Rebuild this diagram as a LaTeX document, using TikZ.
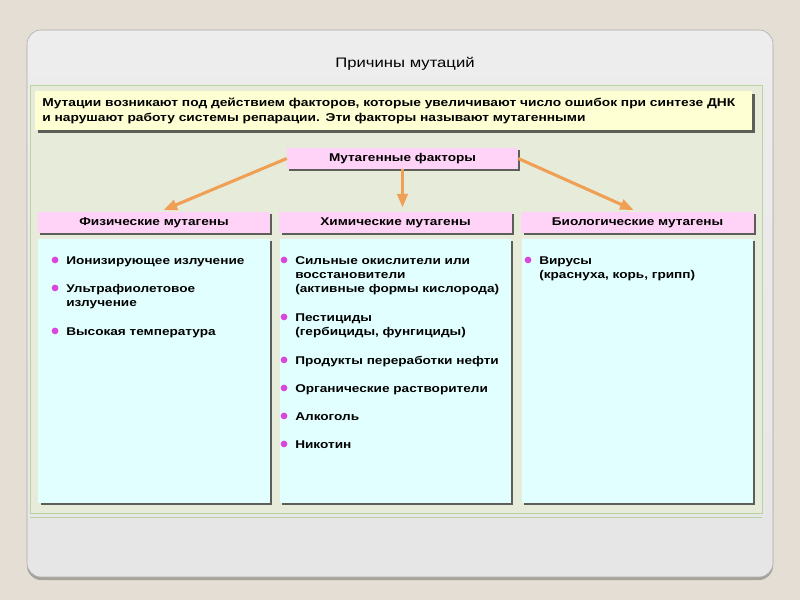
\documentclass[tikz,border=0pt]{standalone}
\usepackage{fontspec}
\setmainfont{Liberation Sans}[FakeStretch=1.21]
\usepackage{xcolor}
\usetikzlibrary{arrows.meta,positioning,shadows}

\definecolor{pagebg}{HTML}{E4DED4}
\definecolor{panelgray}{HTML}{DCDCDC}
\definecolor{panelline}{HTML}{ABABAB}
\definecolor{panelshade}{HTML}{A7A39B}
\definecolor{greenfill}{HTML}{E7ECDA}
\definecolor{greenline}{HTML}{B9D3A0}
\definecolor{notefill}{HTML}{FFFFD4}
\definecolor{headpink}{HTML}{FFD2F8}
\definecolor{listcyan}{HTML}{E2FFFF}
\definecolor{arroworange}{HTML}{EFA055}
\definecolor{dotpink}{HTML}{D846DC}

\begin{document}
\begin{tikzpicture}[x=0.025cm,y=-0.025cm,
    >={Triangle[length=3.4mm,width=2.6mm]},
    flow/.style={->,line width=2.2pt,draw=arroworange,shorten >=3pt},
    boxshadow/.style={drop shadow={shadow xshift=1.6pt,shadow yshift=-1.6pt,fill=black,opacity=0.6}},
    note/.style={fill=notefill,boxshadow,minimum width=17.925cm,minimum height=0.975cm,
      text width=17.575cm,inner xsep=0.175cm,align=left,font=\bfseries\fontsize{8.1}{10.6}\selectfont},
    head/.style={fill=headpink,boxshadow,minimum width=5.8cm,minimum height=0.525cm,
      inner sep=0pt,align=center,font=\bfseries\fontsize{8}{10}\selectfont},
    listbox/.style={fill=listcyan,boxshadow,minimum width=5.775cm,minimum height=6.6cm,inner sep=0pt},
    entry/.style={anchor=base west,inner sep=0pt,text width=5.3cm,align=left,
      font=\bfseries\fontsize{8}{10}\selectfont}
  ]
    \useasboundingbox[fill=pagebg] (0,0) rectangle (800,600);
    % panel
    \fill[panelshade,rounded corners=10pt] (27,34) rectangle (773,580);
    \shade[top color=gray!14,bottom color=gray!20,draw=panelline,rounded corners=10pt]
      (27,30) rectangle (773,577);
    \fill[greenfill] (30,85) rectangle (762,513);
    \draw[greenline] (30,85) rectangle (762,513);
    \draw[greenline] (30,517) -- (762,517);
    \node[font=\fontsize{9.8}{11}\selectfont] (title) at (405,64) {Причины мутаций};

    \node[note,anchor=north west] (note) at (35,91)
      {Мутации возникают под действием факторов, которые увеличивают число ошибок при синтезе ДНК\\
       и нарушают работу системы репарации. Эти факторы называют мутагенными};
    \node[head,minimum width=5.775cm] (factors) at (402.5,158.5) {Мутагенные факторы};

    \node[head] (physhead) at (154,222.5) {Физические мутагены};
    \node[head] (chemhead) at (395.5,222.5) {Химические мутагены};
    \node[head] (biohead) at (637.5,222.5) {Биологические мутагены};

    \node[listbox,below=0.125cm of physhead] (physbox) {};
    \node[listbox,below=0.125cm of chemhead] (chembox) {};
    \node[listbox,below=0.125cm of biohead] (biobox) {};

    \draw[flow] (factors.west) -- ([xshift=4pt]physhead.north);
    \draw[flow] (factors.south) -- (factors.south |- chemhead.north);
    \draw[flow] (factors.east) -- (biohead.north);

    % physical
    \node[entry] (ion) at (66,264) {Ионизирующее излучение};
    \node[entry] (uv) at (66,292) {Ультрафиолетовое\\излучение};
    \node[entry] (heat) at (66,335) {Высокая температура};
    % chemical
    \node[entry] (oxid) at (295,264) {Сильные окислители или\\восстановители\\(активные формы кислорода)};
    \node[entry] (pest) at (295,321) {Пестициды\\(гербициды, фунгициды)};
    \node[entry] (oil) at (295,364) {Продукты переработки нефти};
    \node[entry] (solv) at (295,392) {Органические растворители};
    \node[entry] (alco) at (295,420) {Алкоголь};
    \node[entry] (nicot) at (295,448) {Никотин};
    % biological
    \node[entry] (virus) at (539,264) {Вирусы\\(краснуха, корь, грипп)};

    \foreach \item in {ion,uv,heat,oxid,pest,oil,solv,alco,nicot,virus}
      \fill[dotpink] ([xshift=-7.8pt,yshift=2.9pt]\item.base west) circle (2.4pt);
  \end{tikzpicture}
\end{document}
